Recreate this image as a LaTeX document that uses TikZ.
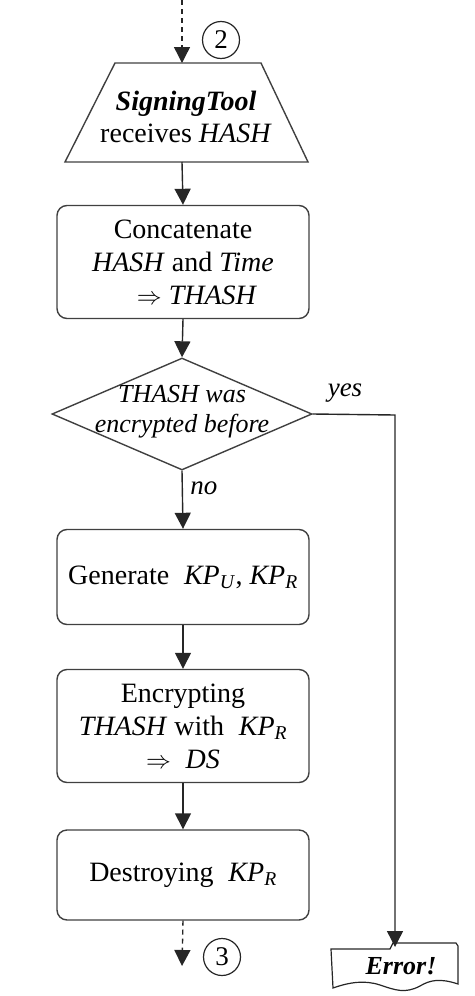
\documentclass[tikz,border=0pt]{standalone}
\usepackage{fontspec}
\setmainfont{Liberation Serif}
\usetikzlibrary{arrows.meta,shapes.geometric}
\newcommand{\sbi}[1]{\textsubscript{\textit{#1}}}
\begin{document}
\begin{tikzpicture}[x=1pt,y=-1pt,
  line width=1.4pt,
  every node/.style={font=\fontsize{28}{33}\selectfont},
  arr/.style={-{Triangle[length=16pt,width=16pt]}, draw=black!85},
  procbox/.style={draw=black!75, rounded corners=10pt, minimum width=252pt, align=center, inner sep=0pt},
  conn/.style={draw=black!85, circle, minimum size=37pt, inner sep=0pt, line width=1.2pt, font=\fontsize{27}{28}\selectfont},
  lbl/.style={font=\fontsize{27}{30}\selectfont\itshape}
]
\useasboundingbox (0,0) rectangle (474,996);
% connector 2
\node[conn] (c2) at (221,40) {2};
\coordinate (top) at (182,0);
% trapezoid
\draw[draw=black!75] (115,63) -- (261,63) -- (308,162) -- (65,162) -- cycle;
\node[align=center] (trap) at (186,117) {\textbf{\textit{SigningTool}}\\[-1pt]receives \textit{HASH}};
\coordinate (trapT) at (182,63);
\coordinate (trapB) at (182,162);
\draw[arr, dash pattern=on 5pt off 4pt] (top) -- (trapT);
% box 1
\node[procbox, minimum height=113pt] (b1) at (183,262) {Concatenate\\\textit{HASH} and \textit{Time}\\\quad$\Rightarrow$ \textit{THASH}};
\draw[arr] (trapB) -- (b1.north);
% diamond
\node[draw=black!75, diamond, aspect=2.3, minimum width=260pt, minimum height=112pt, inner sep=0pt] (d) at (182,414) {};
\node[align=center, font=\fontsize{26}{30}\selectfont\itshape] (dtext) at (182,412) {THASH was\\encrypted before};
\draw[arr] (b1.south) -- (d.north);
% box 2
\node[procbox, minimum height=95pt] (b2) at (183,577) {Generate \;\textit{KP}\sbi{U}, \textit{KP}\sbi{R}};
\draw[arr] (d.south) -- node[lbl, right=4pt, pos=0.3] (no) {no} (b2.north);
% box 3
\node[procbox, minimum height=113pt] (b3) at (183,726) {Encrypting\\\textit{THASH} with \;\textit{KP}\sbi{R}\\$\Rightarrow$\; \textit{DS}};
\draw[arr] (b2.south) -- (b3.north);
% box 4
\node[procbox, minimum height=90pt] (b4) at (183,875) {Destroying \;\textit{KP}\sbi{R}};
\draw[arr] (b3.south) -- (b4.north);
% connector 3
\node[conn] (c3) at (222,957) {3};
\coordinate (bot) at (182,966);
\draw[arr, dash pattern=on 5pt off 4pt] (b4.south) -- (bot);
% error shape
\draw[draw=black!85, line width=1.2pt] (331,949) -- (390,949) -- (393,943) -- (456,943) -- (458,946) -- (458,984)
  .. controls (440,978) and (430,980) .. (420,986) .. controls (405,994) and (395,990) .. (380,985)
  .. controls (365,980) and (350,982) .. (333,988) -- cycle;
\node[font=\fontsize{26}{28}\selectfont\bfseries\itshape] (err) at (401,966) {Error!};
\coordinate (yesC) at (395,415);
\coordinate (errT) at (395,947);
\draw[arr] (d.east) -- (yesC) -- (errT);
\node[lbl] (yes) at (345,393) {yes};
\end{tikzpicture}
\end{document}
